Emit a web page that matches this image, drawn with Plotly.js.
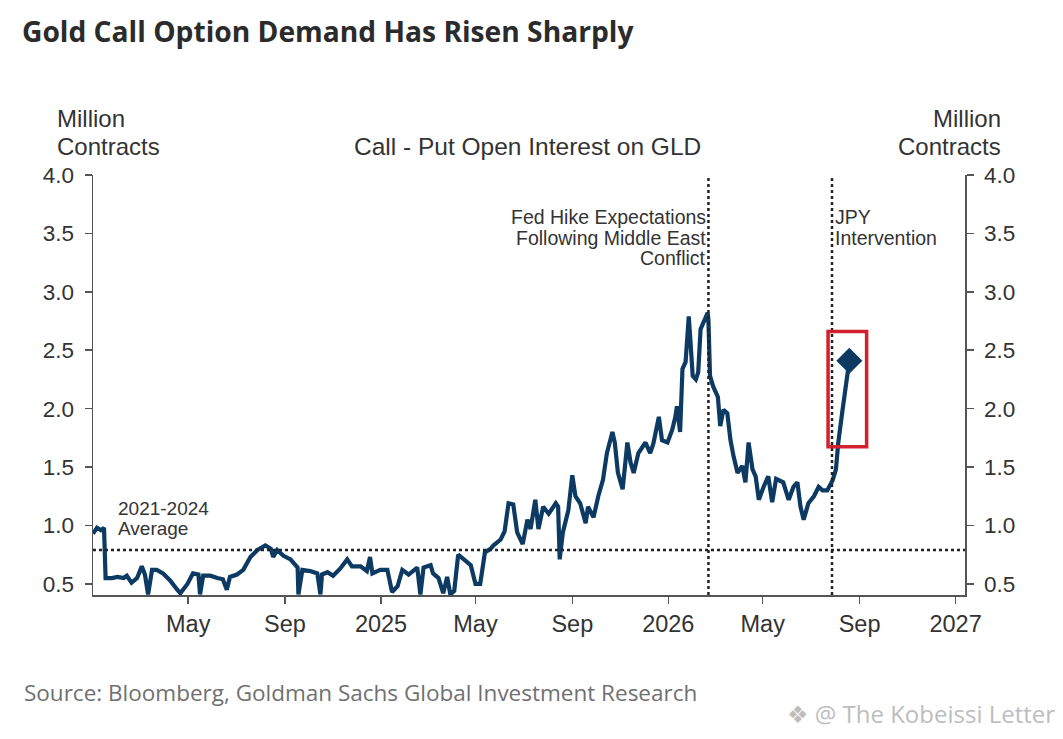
<!DOCTYPE html>
<html>
<head>
<meta charset="utf-8">
<script src="https://cdn.plot.ly/plotly-3.0.1.min.js"></script>
<style>html,body{margin:0;padding:0;background:#fff;}#chart{width:1063px;height:739px;}</style>
</head>
<body>
<div id="chart"></div>
<script>
// Call - Put open interest on GLD (million contracts)
const dates = [
"2024-01-01","2024-01-06","2024-01-11","2024-01-15","2024-01-17","2024-01-25","2024-02-01","2024-02-09","2024-02-13","2024-02-19",
"2024-02-26","2024-03-03","2024-03-07","2024-03-11","2024-03-16","2024-03-22","2024-03-30","2024-04-08","2024-04-17","2024-04-21",
"2024-04-30","2024-05-07","2024-05-14","2024-05-16","2024-05-20","2024-05-29","2024-06-07","2024-06-14","2024-06-19","2024-06-23",
"2024-07-02","2024-07-10","2024-07-19","2024-07-28","2024-08-07","2024-08-14","2024-08-17","2024-08-22","2024-08-30","2024-09-08",
"2024-09-17","2024-09-18","2024-09-23","2024-10-03","2024-10-12","2024-10-16","2024-10-18","2024-10-25","2024-11-01","2024-11-10",
"2024-11-19","2024-11-25","2024-12-06","2024-12-14","2024-12-18","2024-12-21","2024-12-31","2025-01-09","2025-01-15","2025-01-22",
"2025-01-28","2025-02-05","2025-02-16","2025-02-20","2025-02-24","2025-03-05","2025-03-08","2025-03-15","2025-03-21","2025-03-26",
"2025-03-30","2025-04-04","2025-04-09","2025-04-16","2025-04-25","2025-05-01","2025-05-07","2025-05-13","2025-05-20","2025-05-24",
"2025-06-02","2025-06-07","2025-06-12","2025-06-18","2025-06-23","2025-06-30","2025-07-06","2025-07-10","2025-07-16","2025-07-20",
"2025-07-26","2025-08-02","2025-08-11","2025-08-14","2025-08-16","2025-08-20","2025-08-27","2025-09-01","2025-09-05","2025-09-11",
"2025-09-18","2025-09-21","2025-09-28","2025-10-04","2025-10-10","2025-10-15","2025-10-22","2025-10-25","2025-10-29","2025-11-04",
"2025-11-10","2025-11-14","2025-11-18","2025-11-24","2025-12-03","2025-12-09","2025-12-13","2025-12-20","2025-12-24","2025-12-31",
"2026-01-06","2026-01-10","2026-01-12","2026-01-16","2026-01-19","2026-01-23","2026-01-27","2026-01-29","2026-02-01","2026-02-05",
"2026-02-08","2026-02-11","2026-02-15","2026-02-20","2026-02-21","2026-02-23","2026-02-27","2026-03-05","2026-03-08","2026-03-12",
"2026-03-17","2026-03-21","2026-03-25","2026-03-30","2026-04-05","2026-04-09","2026-04-13","2026-04-18","2026-04-22","2026-04-26",
"2026-05-02","2026-05-08","2026-05-13","2026-05-18","2026-05-27","2026-06-03","2026-06-09","2026-06-14","2026-06-18","2026-06-22",
"2026-06-28","2026-07-05","2026-07-11","2026-07-16","2026-07-22","2026-07-29","2026-08-02","2026-08-05","2026-08-10","2026-08-14",
"2026-08-19"
];
const values = [
0.93,0.98,0.96,0.98,0.55,0.55,0.56,0.55,0.57,0.51,
0.55,0.65,0.58,0.41,0.62,0.62,0.59,0.53,0.45,0.42,
0.50,0.59,0.58,0.41,0.57,0.57,0.55,0.54,0.45,0.56,
0.58,0.62,0.73,0.79,0.83,0.80,0.73,0.79,0.74,0.71,
0.64,0.41,0.62,0.61,0.59,0.41,0.58,0.60,0.57,0.63,
0.71,0.65,0.65,0.61,0.73,0.59,0.62,0.62,0.43,0.48,
0.62,0.58,0.64,0.41,0.64,0.66,0.59,0.55,0.42,0.56,
0.41,0.44,0.75,0.71,0.66,0.50,0.50,0.77,0.80,0.83,
0.88,0.95,1.19,1.18,0.94,0.84,1.05,0.97,1.22,0.97,
1.16,1.10,1.19,1.16,0.71,0.94,1.13,1.43,1.25,1.19,
1.02,1.16,1.07,1.25,1.39,1.62,1.80,1.71,1.45,1.31,
1.71,1.54,1.45,1.62,1.71,1.62,1.70,1.93,1.73,1.71,
1.82,1.93,2.02,1.80,2.34,2.40,2.79,2.59,2.28,2.25,
2.31,2.68,2.74,2.82,2.76,2.28,2.19,2.10,1.85,1.99,
1.96,1.73,1.59,1.45,1.51,1.37,1.71,1.48,1.42,1.22,
1.33,1.42,1.20,1.40,1.37,1.22,1.33,1.37,1.16,1.05,
1.19,1.25,1.33,1.30,1.30,1.39,1.48,1.71,1.97,2.19,
2.41
];
const tickDates = ["2024-05-01","2024-09-01","2025-01-01","2025-05-01","2025-09-01","2026-01-01","2026-05-01","2026-09-01","2027-01-01"];
const tickLabels = ["May","Sep","2025","May","Sep","2026","May","Sep","2027"];
const yTicks = [0.5,1.0,1.5,2.0,2.5,3.0,3.5,4.0];
const yTickLabels = ["0.5","1.0","1.5","2.0","2.5","3.0","3.5","4.0"];
const averageLevel = 0.79;
const averageLabel = ["2021-2024","Average"];
const eventDates = ["2026-02-21","2026-07-28"];
const fedLabel = ["Fed Hike Expectations","Following Middle East","Conflict"];
const jpyLabel = ["JPY","Intervention"];
const highlightBox = {x0:"2026-07-23", x1:"2026-09-10", y0:1.675, y1:2.66};

const NAVY = "#0c3a63";
const TXT = "#333333";
const AX = "#555555";
const FONT = "Arial, 'Liberation Sans', sans-serif";

const lastI = values.length - 1;
const traces = [
  {x: dates, y: values, type: "scatter", mode: "lines",
   line: {color: NAVY, width: 4.2}, hoverinfo: "x+y", showlegend: false},
  {x: [dates[lastI]], y: [values[lastI]], type: "scatter", mode: "markers",
   marker: {symbol: "diamond", size: 20, color: NAVY}, showlegend: false},
  {x: [dates[0]], y: [values[0]], yaxis: "y2", type: "scatter", mode: "markers",
   marker: {opacity: 0}, hoverinfo: "skip", showlegend: false}
];

const yCommon = {
  range: [0.405, 4.0], tickmode: "array", tickvals: yTicks, ticktext: yTickLabels,
  ticks: "outside", ticklen: 7, tickwidth: 1.5, tickcolor: AX,
  showline: true, linecolor: AX, linewidth: 1.5, showgrid: false, zeroline: false,
  tickfont: {family: FONT, size: 22.5, color: TXT}, ticklabelstandoff: 6, fixedrange: true
};

const shapes = [
  {type: "line", xref: "paper", x0: 0, x1: 1, yref: "y", y0: averageLevel, y1: averageLevel,
   line: {color: "#222", width: 2.5, dash: "dot"}},
  ...eventDates.map(d => ({type: "line", xref: "x", x0: d, x1: d, yref: "paper", y0: 0, y1: 1,
   line: {color: "#222", width: 2.5, dash: "dot"}})),
  {type: "rect", xref: "x", yref: "y", x0: highlightBox.x0, x1: highlightBox.x1,
   y0: highlightBox.y0, y1: highlightBox.y1, line: {color: "#d3202f", width: 3.5}, fillcolor: "rgba(0,0,0,0)"}
];

function txt(o) { return Object.assign({showarrow: false, yanchor: "middle"}, o); }
const annotations = [
  txt({xref: "paper", yref: "paper", x: -0.0436, y: 1.1357, xanchor: "left", text: "Million", font: {family: FONT, size: 24, color: TXT}}),
  txt({xref: "paper", yref: "paper", x: -0.0436, y: 1.0667, xanchor: "left", text: "Contracts", font: {family: FONT, size: 24, color: TXT}}),
  txt({xref: "paper", yref: "paper", x: 1.0435, y: 1.1357, xanchor: "right", text: "Million", font: {family: FONT, size: 24, color: TXT}}),
  txt({xref: "paper", yref: "paper", x: 1.0435, y: 1.0667, xanchor: "right", text: "Contracts", font: {family: FONT, size: 24, color: TXT}}),
  txt({xref: "paper", yref: "paper", x: 0.4983, y: 1.0667, xanchor: "center", text: "Call - Put Open Interest on GLD", font: {family: FONT, size: 24.5, color: TXT}}),
  ...fedLabel.map((t, i) => txt({xref: "x", yref: "paper", x: eventDates[0], xshift: 0, y: [0.900, 0.850, 0.8024][i],
     xanchor: "right", text: t, font: {family: FONT, size: 19.5, color: TXT}})),
  ...jpyLabel.map((t, i) => txt({xref: "x", yref: "paper", x: eventDates[1], xshift: 1, y: [0.900, 0.850][i],
     xanchor: "left", text: t, font: {family: FONT, size: 19.5, color: TXT}})),
  ...averageLabel.map((t, i) => txt({xref: "paper", yref: "paper", x: 0.0264, y: [0.2048, 0.1595][i],
     xanchor: "left", text: t, font: {family: FONT, size: 19, color: TXT}})),
  txt({xref: "paper", yref: "paper", x: -0.0815, y: -0.232, xanchor: "left",
   text: "Source: Bloomberg, Goldman Sachs Global Investment Research",
   font: {family: "'Open Sans', sans-serif", size: 22.5, color: "#707070"}}),
  txt({xref: "paper", yref: "paper", x: 1.106, y: -0.283, xanchor: "right",
   text: "<span style=\"font-family:'DejaVu Sans'\">❖</span> @ The Kobeissi Letter",
   font: {family: "'Open Sans', sans-serif", size: 24, color: "#bdbdbd"}})
];

const layout = {
  width: 1063, height: 739,
  paper_bgcolor: "#ffffff", plot_bgcolor: "#ffffff",
  margin: {l: 93, r: 98, t: 175, b: 144},
  showlegend: false,
  title: {text: "<b>Gold Call Option Demand Has Risen Sharply</b>", x: 22/1063, xanchor: "left",
          y: 1 - 32/739, yanchor: "middle", xref: "container", yref: "container",
          font: {family: "'Open Sans', sans-serif", size: 28.2, color: "#2b2b2b"}},
  xaxis: {type: "date", range: ["2024-01-01", "2027-01-13"], tickmode: "array",
          tickvals: tickDates, ticktext: tickLabels, ticks: "outside", ticklen: 7, tickwidth: 1.5,
          tickcolor: AX, showline: true, linecolor: AX, linewidth: 1.5, showgrid: false, zeroline: false,
          tickfont: {family: FONT, size: 23.5, color: TXT}, ticklabelstandoff: 0, fixedrange: true},
  yaxis: Object.assign({}, yCommon, {side: "left"}),
  yaxis2: Object.assign({}, yCommon, {side: "right", overlaying: "y", matches: "y"}),
  shapes: shapes,
  annotations: annotations
};

Plotly.newPlot("chart", traces, layout, {displayModeBar: false, staticPlot: true});
</script>
</body>
</html>
